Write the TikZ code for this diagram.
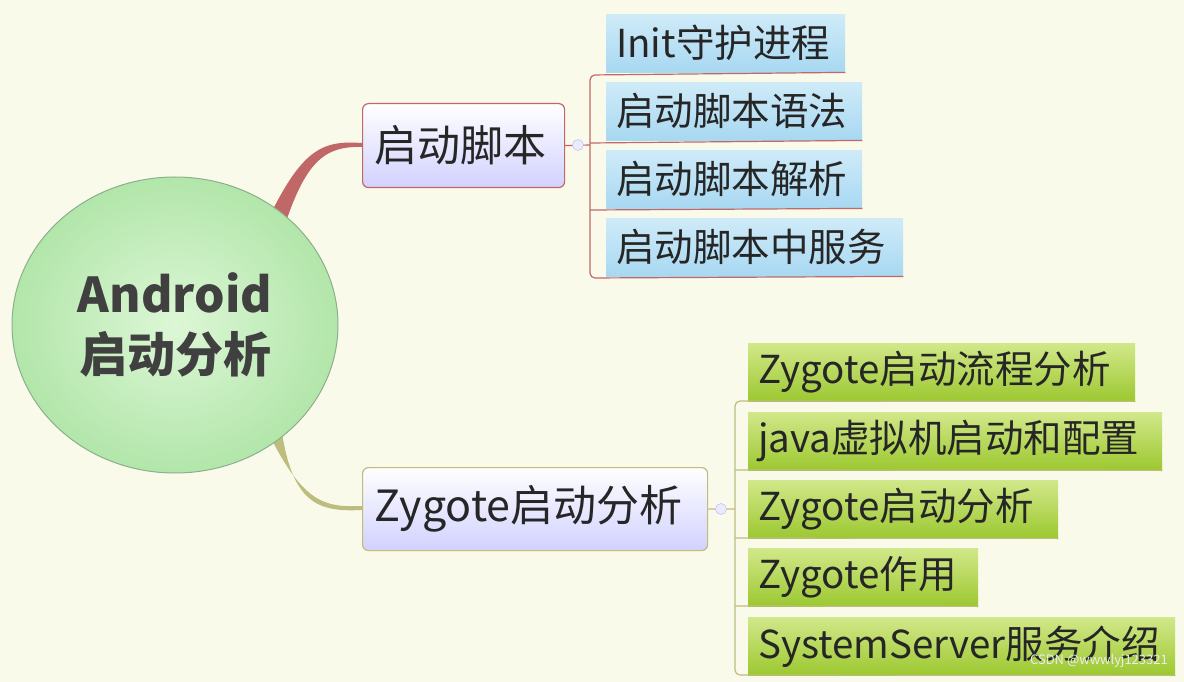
\documentclass[tikz,border=0pt]{standalone}
\usepackage{fontspec}
\setmainfont{Noto Sans CJK SC}
\usetikzlibrary{shapes.geometric}
\definecolor{bg}{HTML}{FAFAEA}
\definecolor{redl}{HTML}{C06868}
\definecolor{olive}{HTML}{BDBD80}
\definecolor{gtop}{HTML}{D2E88A}
\definecolor{gbot}{HTML}{9CC830}
\definecolor{btop}{HTML}{CFEBF8}
\definecolor{bbot}{HTML}{A8D8F2}
\definecolor{etop}{HTML}{DDF7D6}
\definecolor{eout}{HTML}{B2E6AA}
\tikzset{
 mid/.style={draw, rounded corners=6pt, line width=1.2pt, top color=white, bottom color=blue!18!white, anchor=north west, inner sep=0pt, inner xsep=12pt, font=\fontsize{43}{46}\selectfont, text=black!85, align=left},
 leafb/.style={anchor=north west, minimum height=58pt, inner sep=0pt, inner xsep=10pt, font=\fontsize{38.5}{40}\selectfont, text=black!85, align=left},
 blueleaf/.style={leafb, top color=btop, bottom color=bbot},
 greenleaf/.style={leafb, top color=gtop, bottom color=gbot},
 dot/.style={circle, draw=blue!30, fill=blue!8, minimum size=11pt, inner sep=0pt}
}
\begin{document}
\begin{tikzpicture}[x=1pt,y=-1pt]
\fill[bg] (0,0) rectangle (1184,682);
\useasboundingbox (0,0) rectangle (1184,682);
% connectors from center
\fill[redl] (262,232) .. controls (300,150) and (320,140) .. (362,143) -- (362,147) .. controls (325,146) and (305,160) .. (282,234) -- cycle;
\fill[olive] (262,420) .. controls (300,500) and (320,508) .. (362,506) -- (362,510) .. controls (318,512) and (290,505) .. (280,418) -- cycle;
% center ellipse
\node[ellipse, draw=green!30!black!45, line width=1pt, inner color=etop, outer color=eout, minimum width=326pt, minimum height=296pt, align=center, font=\fontsize{48}{60}\selectfont\bfseries, text=black!75] (c) at (175,325) {Android\\启动分析};
% middle nodes
\node[mid, draw=redl, minimum height=84pt, text width=178pt] (n1) at (362,103) {启动脚本};
\node[mid, draw=olive, minimum height=83pt, text width=321pt] (n2) at (362,467) {Zygote启动分析};
% top leaves
\node[blueleaf, text width=219pt] (a1) at (606,14) {Init守护进程};
\node[blueleaf, text width=236pt] (a2) at (606,82) {启动脚本语法};
\node[blueleaf, text width=236pt] (a3) at (606,150) {启动脚本解析};
\node[blueleaf, text width=277pt] (a4) at (606,218) {启动脚本中服务};
\begin{scope}[draw=redl, line width=1.2pt]
\draw (n1.east) -- (590,145);
\draw[rounded corners=5pt] (a1.south east) -- (590,75) -- (590,278) -- (a4.south east);
\draw (590,143) -- (a2.south east);
\draw (590,210) -- (a3.south east);
\end{scope}
\node[dot] (d1) at (578,145) {};
% bottom leaves
\node[greenleaf, text width=367pt] (b1) at (748,343) {Zygote启动流程分析};
\node[greenleaf, text width=394pt] (b2) at (748,412) {java虚拟机启动和配置};
\node[greenleaf, text width=290pt] (b3) at (748,480) {Zygote启动分析};
\node[greenleaf, text width=210pt] (b4) at (748,548) {Zygote作用};
\node[greenleaf, text width=407pt] (b5) at (748,617) {SystemServer服务介绍};
\begin{scope}[draw=olive, line width=1.2pt]
\draw (n2.east) -- (735,509);
\draw[rounded corners=5pt] (b1.south east) -- (735,401) -- (735,675) -- (b5.south east);
\draw (735,470) -- (b2.south east);
\draw (735,538) -- (b3.south east);
\draw (735,606) -- (b4.south east);
\end{scope}
\node[dot] (d2) at (721,509) {};
\node[anchor=south east, font=\fontsize{13}{14}\selectfont, text=white!85!gray, inner sep=2pt] (wm) at (1170,670) {CSDN @wwwlyj123321};
\end{tikzpicture}
\end{document}
